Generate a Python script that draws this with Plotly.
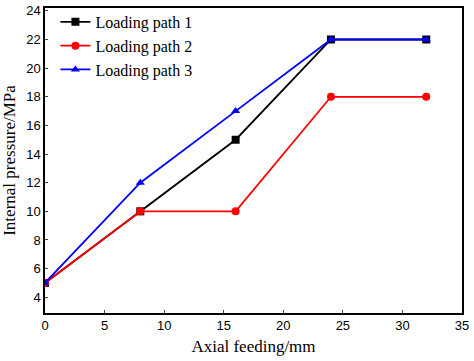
import plotly.graph_objects as go

x_feed = [0, 8, 16, 24, 32]
path1 = [5, 10, 15, 22, 22]
path2 = [5, 10, 10, 18, 18]
path3 = [5, 12, 17, 22, 22]
names = ["Loading path 1", "Loading path 2", "Loading path 3"]
colors = ["#000000", "#ff0000", "#0000ff"]
symbols = ["square", "circle", "triangle-up"]

serif = "Times New Roman, Liberation Serif, serif"
sans = "Arial, Liberation Sans, sans-serif"

fig = go.Figure()
for name, ys, c, s in zip(names, [path1, path2, path3], colors, symbols):
    fig.add_trace(go.Scatter(x=x_feed, y=ys, mode="lines+markers", name=name,
                             line=dict(color=c, width=1.8),
                             marker=dict(symbol=s, size=8, color=c)))

fig.update_layout(
    width=474, height=361,
    margin=dict(l=45, r=12, t=8, b=48, autoexpand=False),
    paper_bgcolor="white", plot_bgcolor="white",
    showlegend=True,
    legend=dict(x=0.025, y=1.01, xanchor="left", yanchor="top",
                font=dict(family=serif, size=16, color="black"),
                bgcolor="rgba(0,0,0,0)", itemwidth=30, tracegroupgap=0),
    xaxis=dict(range=[0, 35], tickvals=[0, 5, 10, 15, 20, 25, 30, 35],
               automargin=False,
               showgrid=False, zeroline=False, showline=True, mirror=True,
               linecolor="black", linewidth=1.5, ticks="inside", ticklen=3,
               tickfont=dict(family=sans, size=13, color="black"),
               title=dict(text="Axial feeding/mm", standoff=8,
                          font=dict(family=serif, size=17, color="black"))),
    yaxis=dict(range=[2.9, 24.2], tickvals=[4, 6, 8, 10, 12, 14, 16, 18, 20, 22, 24],
               automargin=False,
               showgrid=False, zeroline=False, showline=True, mirror=True,
               linecolor="black", linewidth=1.5, ticks="inside", ticklen=3,
               tickfont=dict(family=sans, size=13, color="black"),
               title=dict(text="Internal pressure/MPa", standoff=6,
                          font=dict(family=serif, size=17, color="black"))),
)

fig.write_html("out.html", config={"displayModeBar": False},
               post_script="document.body.style.margin='0';document.body.style.overflow='hidden';")
